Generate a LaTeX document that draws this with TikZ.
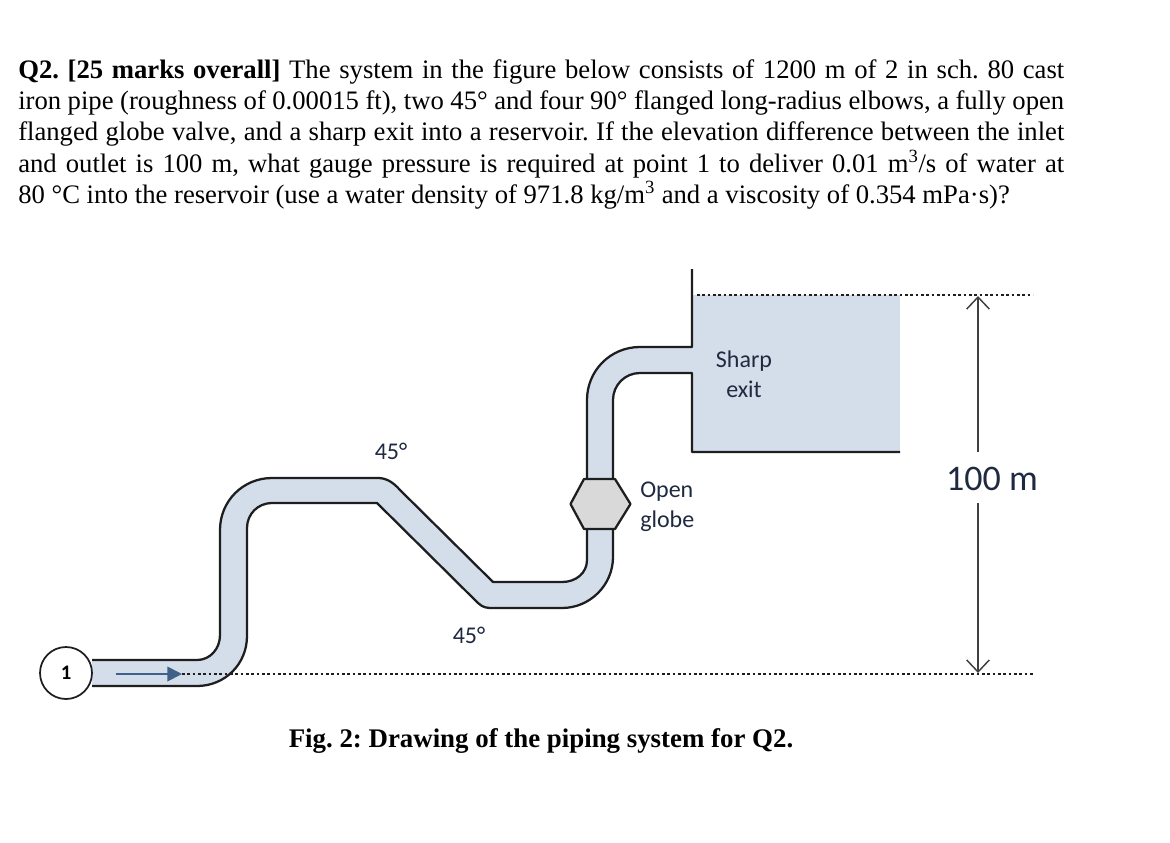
\documentclass[tikz,border=0pt]{standalone}
\usepackage{fontspec}
\setmainfont{Liberation Serif}
\newfontfamily\labelfont{Carlito}
\usetikzlibrary{arrows.meta}
\definecolor{water}{HTML}{D4DEEA}
\definecolor{valvegrey}{HTML}{D9D9D9}
\definecolor{flowblue}{HTML}{3F6089}
\definecolor{labelink}{HTML}{1F2A40}
\definecolor{lineink}{HTML}{1E1E1E}
\frenchspacing
\tikzset{
  pipeline/.style={draw=lineink,line width=1.7pt,line join=round},
  dotline/.style={draw=lineink,line width=1.5pt,dash pattern=on 2.1pt off 1.9pt},
  dimline/.style={draw=lineink!85,line width=1.1pt,-{Straight Barb[length=9pt,width=17pt,line width=1.1pt]}},
  tag/.style={font=\labelfont\fontsize{18}{22.5}\selectfont,text=labelink,inner sep=0pt,align=center},
  para/.style={inner sep=0pt,anchor=north west,text width=784.5pt,align=justify,font=\fontsize{20}{23.5}\selectfont}
}
\begin{document}
\begin{tikzpicture}[x=0.75pt,y=-0.75pt]
\useasboundingbox (0,0) rectangle (1170,842);
\fill[white] (0,0) rectangle (1170,842);
% text
\node[para] (question) at (18,59) {\textbf{Q2. [25 marks overall]} The system in the figure below consists of 1200 m of 2 in sch. 80 cast\linebreak
iron pipe (roughness of 0.00015 ft), two 45° and four 90° flanged long-radius elbows, a fully open\linebreak
flanged globe valve, and a sharp exit into a reservoir. If the elevation difference between the inlet\linebreak
and outlet is 100 m, what gauge pressure is required at point 1 to deliver 0.01 m\textsuperscript{3}/s of water at\linebreak
80 °C into the reservoir (use a water density of 971.8 kg/m\textsuperscript{3} and a viscosity of 0.354 mPa·s)?};
% reservoir water
\fill[water] (692,295) rectangle (900,452);
% pipe fill
\fill[water] (92,686) -- (197,686) .. controls (225,686) and (247,664) .. (247,636) -- (247,528)
  .. controls (247,514) and (258,503) .. (272,503) -- (377,503) -- (478,603)
  .. controls (483,608) and (488,608) .. (493,608) -- (562,608)
  .. controls (590,608) and (613,585) .. (613,557) -- (613,400)
  .. controls (613,385) and (625,373) .. (640,373) -- (692,373) -- (692,347) -- (640,347)
  .. controls (610,347) and (587,371) .. (587,400) -- (587,560)
  .. controls (587,573) and (576,582) .. (562,582) -- (493,582) -- (400,490)
  .. controls (393,482) and (386,478) .. (378,478) -- (272,478)
  .. controls (243,478) and (220,501) .. (220,530) -- (220,635)
  .. controls (220,649) and (210,660) .. (197,660) -- (92,660) -- cycle;
% pipe outlines
\draw[pipeline] (92,686) -- (197,686) .. controls (225,686) and (247,664) .. (247,636) -- (247,528)
  .. controls (247,514) and (258,503) .. (272,503) -- (377,503) -- (478,603)
  .. controls (483,608) and (488,608) .. (493,608) -- (562,608)
  .. controls (590,608) and (613,585) .. (613,557) -- (613,529);
\draw[pipeline] (587,529) -- (587,560)
  .. controls (587,573) and (576,582) .. (562,582) -- (493,582) -- (400,490)
  .. controls (393,482) and (386,478) .. (378,478) -- (272,478)
  .. controls (243,478) and (220,501) .. (220,530) -- (220,635)
  .. controls (220,649) and (210,660) .. (197,660) -- (92,660);
\draw[pipeline] (613,479) -- (613,400) .. controls (613,385) and (625,373) .. (640,373) -- (692,373)
  -- (692,452) -- (900,452);
\draw[pipeline] (587,479) -- (587,400) .. controls (587,371) and (610,347) .. (640,347) -- (692,347) -- (692,269);
% valve
\filldraw[fill=valvegrey,pipeline] (570.5,504) -- (584,479) -- (615,479) -- (630.5,504) -- (615,529) -- (584,529) -- cycle;
% reference levels
\coordinate (lowL) at (182,674);
\coordinate (lowR) at (1033,674);
\coordinate (topL) at (697,295);
\coordinate (topR) at (1033,295);
\draw[dotline] (lowL) -- (lowR);
\draw[dotline] (topL) -- (topR);
% flow arrow
\coordinate (flowA) at (116,674);
\draw[flowblue,line width=1.4pt,-{Triangle[length=11pt,width=11pt]}] (flowA) -- (lowL);
% point 1
\node[circle,draw=lineink,fill=white,line width=1.3pt,minimum size=39pt,inner sep=0pt,font=\labelfont\bfseries\fontsize{15.5}{17}\selectfont] (pointone) at (66,673) {1};
% dimension
\node[font=\labelfont\fontsize{27}{30}\selectfont,text=labelink,inner sep=0pt] (hundred) at (992,479) {100 m};
\coordinate (dimTop) at (978,296);
\coordinate (dimTopStart) at (978,452);
\coordinate (dimBot) at (978,673);
\coordinate (dimBotStart) at (978,503);
\draw[dimline] (dimTopStart) -- (dimTop);
\draw[dimline] (dimBotStart) -- (dimBot);
% labels
\node[tag] (a1) at (391,451) {45°};
\node[tag] (a2) at (469,635) {45°};
\node[tag] (sharp) at (744,374) {Sharp\\exit};
\node[tag,align=left,anchor=west] (globe) at (640,506.5) {Open\\globe};
\node[inner sep=0pt,font=\bfseries\fontsize{20.15}{24}\selectfont] (caption) at (541,741) {Fig. 2: Drawing of the piping system for Q2.};
\end{tikzpicture}
\end{document}
